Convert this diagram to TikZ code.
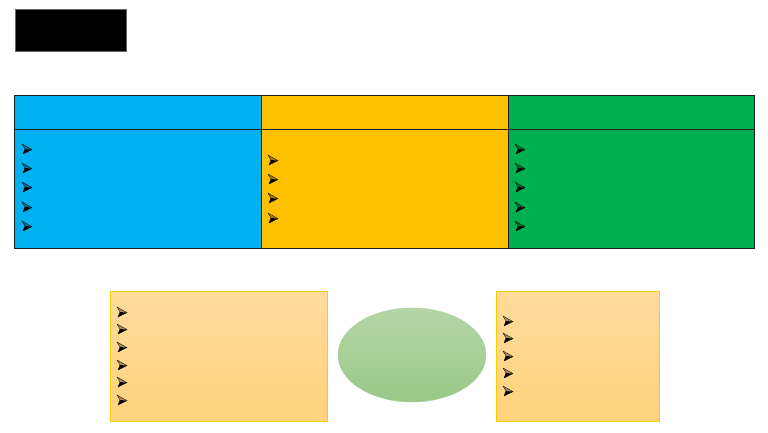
\documentclass[tikz,border=0pt]{standalone}
\usetikzlibrary{shapes.geometric}
\begin{document}
\begin{tikzpicture}[x=1pt,y=-1pt,
  cell/.style={draw=black!88,line width=1.1pt,inner sep=0pt,anchor=north west},
  lbox/.style={draw={rgb,255:red,255;green,204;blue,0},line width=0.8pt,inner sep=0pt,anchor=north west,
    top color={rgb,255:red,255;green,219;blue,155},bottom color={rgb,255:red,255;green,210;blue,125}},
  bullet/.pic={
    \fill[black,fill opacity=0.35] (-5,-5) -- (5,0.6) -- (-2,0) -- cycle;
    \fill[black] (-2,0) -- (5,0.6) -- (-4,5) -- cycle;
    \draw[black,line width=0.3pt,line join=round] (-5,-5) -- (5,0.6) -- (-4,5) -- (-2,0) -- cycle;
  }]
\definecolor{cblue}{RGB}{0,176,240}
\definecolor{cyellow}{RGB}{255,192,0}
\definecolor{cgreen}{RGB}{0,176,80}
\useasboundingbox (0,0) rectangle (768,433);
\fill[white] (0,0) rectangle (768,433);
% title block
\node[fill=black,draw=black!60,line width=0.5pt,minimum width=111pt,minimum height=42pt,inner sep=0pt,anchor=north west] (title) at (15,9) {};
% table
\node[cell,fill=cblue,minimum width=247pt,minimum height=34pt] (h1) at (14,95) {};
\node[cell,fill=cyellow,minimum width=247pt,minimum height=34pt] (h2) at (261,95) {};
\node[cell,fill=cgreen,minimum width=246pt,minimum height=34pt] (h3) at (508,95) {};
\node[cell,fill=cblue,minimum width=247pt,minimum height=119pt] (b1) at (14,129) {};
\node[cell,fill=cyellow,minimum width=247pt,minimum height=119pt] (b2) at (261,129) {};
\node[cell,fill=cgreen,minimum width=246pt,minimum height=119pt] (b3) at (508,129) {};
% bullets in table
\foreach \y in {149,168,187,207,226} {\pic at (27,\y) {bullet}; \pic at (520,\y) {bullet};}
\foreach \y in {160,179,198,218} {\pic at (273,\y) {bullet};}
% bottom boxes
\node[lbox,minimum width=217pt,minimum height=130pt] (lb) at (110,291) {};
\node[lbox,minimum width=163pt,minimum height=130pt] (rb) at (496,291) {};
\node[ellipse,inner sep=0pt,minimum width=148pt,minimum height=94pt,
  top color={rgb,255:red,180;green,214;blue,165},bottom color={rgb,255:red,154;green,200;blue,136},
  draw={rgb,255:red,160;green,200;blue,145},line width=0.3pt] (el) at (412,355) {};
\foreach \y in {312,329,347,365,382,400} {\pic at (122,\y) {bullet};}
\foreach \y in {321,338,356,373,391} {\pic at (508,\y) {bullet};}
\end{tikzpicture}
\end{document}
